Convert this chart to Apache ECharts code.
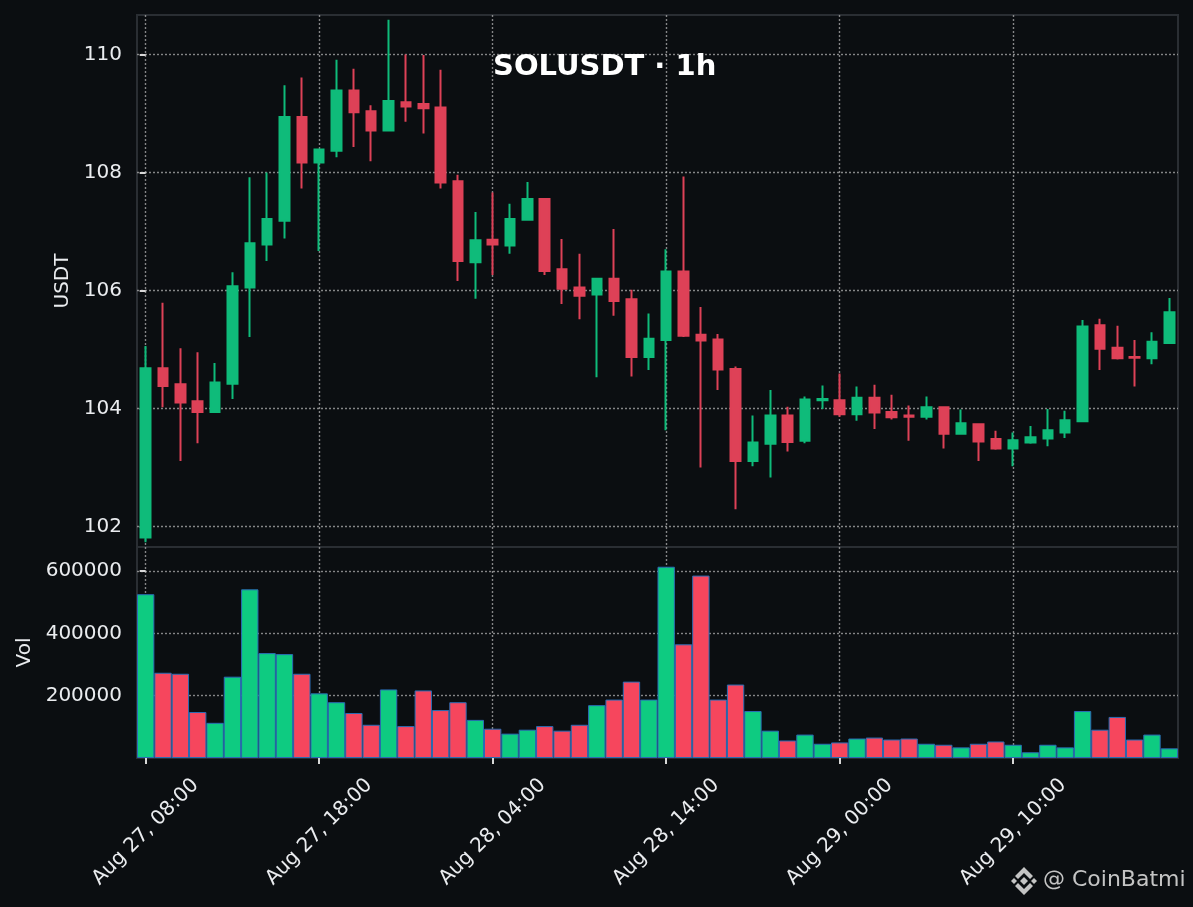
<!DOCTYPE html>
<html><head><meta charset="utf-8">
<script src="https://cdn.jsdelivr.net/npm/echarts@6/dist/echarts.min.js"></script>
<style>html,body{margin:0;padding:0;background:#0b0e11;}#c{width:1193px;height:907px;}</style>
</head><body><div id="c"></div>
<script>
const times = [
 'Aug 27, 08:00','Aug 27, 09:00','Aug 27, 10:00','Aug 27, 11:00','Aug 27, 12:00','Aug 27, 13:00','Aug 27, 14:00','Aug 27, 15:00',
 'Aug 27, 16:00','Aug 27, 17:00','Aug 27, 18:00','Aug 27, 19:00','Aug 27, 20:00','Aug 27, 21:00','Aug 27, 22:00','Aug 27, 23:00',
 'Aug 28, 00:00','Aug 28, 01:00','Aug 28, 02:00','Aug 28, 03:00','Aug 28, 04:00','Aug 28, 05:00','Aug 28, 06:00','Aug 28, 07:00',
 'Aug 28, 08:00','Aug 28, 09:00','Aug 28, 10:00','Aug 28, 11:00','Aug 28, 12:00','Aug 28, 13:00','Aug 28, 14:00','Aug 28, 15:00',
 'Aug 28, 16:00','Aug 28, 17:00','Aug 28, 18:00','Aug 28, 19:00','Aug 28, 20:00','Aug 28, 21:00','Aug 28, 22:00','Aug 28, 23:00',
 'Aug 29, 00:00','Aug 29, 01:00','Aug 29, 02:00','Aug 29, 03:00','Aug 29, 04:00','Aug 29, 05:00','Aug 29, 06:00','Aug 29, 07:00',
 'Aug 29, 08:00','Aug 29, 09:00','Aug 29, 10:00','Aug 29, 11:00','Aug 29, 12:00','Aug 29, 13:00','Aug 29, 14:00','Aug 29, 15:00',
 'Aug 29, 16:00','Aug 29, 17:00','Aug 29, 18:00','Aug 29, 19:00'
];
const opens = [
 101.81,104.68,104.41,104.12,103.94,104.42,106.05,106.78,107.18,108.94,
 108.17,108.37,109.39,109.04,108.71,109.19,109.16,109.10,107.85,106.48,
 106.86,106.76,107.20,107.55,106.36,106.05,105.93,106.20,105.85,104.87,
 105.16,106.32,105.25,105.17,104.67,103.11,103.40,103.88,103.45,104.14,
 104.14,103.90,104.18,103.94,103.88,103.86,104.02,103.57,103.73,103.48,
 103.32,103.42,103.49,103.59,103.78,105.41,105.03,104.87,104.85,105.11
];
const closes = [
 104.68,104.38,104.10,103.94,104.44,106.07,106.80,107.21,108.94,108.17,
 108.39,109.39,109.02,108.71,109.21,109.12,109.09,107.83,106.50,106.85,
 106.78,107.21,107.55,106.33,106.03,105.91,106.20,105.82,104.87,105.18,
 106.32,105.23,105.15,104.66,103.11,103.42,103.88,103.43,104.15,104.16,
 103.90,104.18,103.93,103.85,103.86,104.02,103.57,103.75,103.44,103.32,
 103.46,103.51,103.63,103.80,105.39,105.01,104.85,104.86,105.13,105.63
];
const lows = [
 101.73,104.02,103.11,103.41,103.93,104.16,105.21,106.50,106.88,107.73,
 106.67,108.26,108.43,108.19,108.71,108.86,108.66,107.73,106.16,105.86,
 106.26,106.62,107.18,106.26,105.77,105.51,104.53,105.57,104.54,104.65,
 103.63,105.21,103.00,104.31,102.29,103.02,102.83,103.27,103.41,103.99,
 103.86,103.79,103.65,103.81,103.45,103.81,103.32,103.57,103.11,103.30,
 103.02,103.40,103.36,103.50,103.78,104.65,104.83,104.37,104.75,105.11
];
const highs = [
 105.06,105.79,105.02,104.95,104.77,106.31,107.92,108.00,109.48,109.61,
 108.40,109.91,109.76,109.14,110.59,110.00,109.99,109.74,107.96,107.33,
 107.66,107.47,107.84,107.55,106.87,106.62,106.20,107.04,106.01,105.61,
 106.70,107.93,105.72,105.26,104.71,103.88,104.31,104.03,104.20,104.39,
 104.59,104.37,104.40,104.23,104.05,104.20,104.02,103.98,103.73,103.62,
 103.59,103.70,103.99,103.96,105.50,105.52,105.40,105.16,105.29,105.87
];
const volumes = [
 525500,273500,270300,147500,112900,260900,541200,336500,333300,270300,
 207400,179000,144400,106600,220000,102400,216800,153800,179000,122300,
 94000,78200,90800,102400,87700,106600,169600,187400,245100,187400,
 613700,364800,585300,187400,235700,150700,87700,56200,75100,45700,
 49900,62500,65600,59300,62500,45700,42500,34100,45700,53000,
 42500,18400,42500,34100,150700,90800,131800,59300,75100,31000
];
const xTickIdx = [0,10,20,30,40,50];
const priceTicks = [102,104,106,108,110];
const volTicks = [200000,400000,600000];

const UP='#0fbb7a', DOWN='#de4157', VUP='#0ecb81', VDOWN='#f6465d';
const FONT='DejaVu Sans';
const TXT='#eaecef';
const gridLine = {show:true, lineStyle:{color:'rgba(175,175,175,0.75)', width:1.4, type:[2,2]}};

const candleData = times.map((t,i)=>[i, opens[i], closes[i], lows[i], highs[i]]);
const volData = times.map((t,i)=>({value:[i, volumes[i]], itemStyle:{color: closes[i] >= opens[i] ? VUP : VDOWN}}));

const chart = echarts.init(document.getElementById('c'), null, {renderer:'canvas'});
const L=137, R=15;
chart.setOption({
  backgroundColor:'#0b0e11',
  animation:false,
  textStyle:{fontFamily:FONT},
  title:{text:'SOLUSDT · 1h', left:493, top:53, padding:0,
    textStyle:{color:'#ffffff', fontFamily:FONT, fontWeight:'bold', fontSize:29}},
  grid:[
    {left:L, right:R, top:15, height:532, show:true, borderColor:'#2a2e33', borderWidth:2, backgroundColor:'transparent'},
    {left:L, right:R, top:547, height:211, show:true, borderColor:'#2a2e33', borderWidth:2, backgroundColor:'transparent'}
  ],
  xAxis:[
    {type:'value', gridIndex:0, min:-0.5, max:59.5,
      axisLine:{show:false}, axisLabel:{show:false, customValues:xTickIdx},
      axisTick:{show:false, customValues:xTickIdx}, splitLine:gridLine},
    {type:'value', gridIndex:1, min:-0.5, max:59.5,
      axisLine:{show:false},
      axisTick:{show:true, customValues:xTickIdx, length:6, lineStyle:{color:'#d8d8d8', width:2}},
      axisLabel:{show:true, customValues:xTickIdx, rotate:45, align:'center', verticalAlign:'middle', margin:74,
        color:TXT, fontFamily:FONT, fontSize:20, formatter:(v)=>times[Math.round(v)] || ''},
      splitLine:gridLine}
  ],
  yAxis:[
    {type:'value', gridIndex:0, min:101.65, max:110.67, position:'left',
      name:'USDT', nameLocation:'middle', nameGap:62, nameTextStyle:{color:TXT, fontFamily:FONT, fontSize:20},
      axisLine:{show:false},
      axisTick:{show:true, customValues:priceTicks, length:6, lineStyle:{color:'#d8d8d8', width:2}},
      axisLabel:{customValues:priceTicks, color:TXT, fontFamily:FONT, fontSize:20, margin:15, formatter:(v)=>String(v)},
      splitLine:gridLine},
    {type:'value', gridIndex:1, min:0, max:677000, interval:200000, position:'left',
      name:'Vol', nameLocation:'middle', nameGap:100, nameTextStyle:{color:TXT, fontFamily:FONT, fontSize:20},
      axisLine:{show:false},
      axisTick:{show:true, customValues:volTicks, length:6, lineStyle:{color:'#d8d8d8', width:2}},
      axisLabel:{customValues:volTicks, color:TXT, fontFamily:FONT, fontSize:20, margin:15, formatter:(v)=>String(v)},
      splitLine:gridLine}
  ],
  series:[
    {type:'candlestick', xAxisIndex:0, yAxisIndex:0, data:candleData, barWidth:10,
      itemStyle:{color:UP, color0:DOWN, borderColor:UP, borderColor0:DOWN, borderWidth:2}},
    {type:'bar', xAxisIndex:1, yAxisIndex:1, data:volData, barWidth:'100%',
      itemStyle:{borderColor:'#2a6db5', borderWidth:1}}
  ],
  graphic:[
    {type:'group', x:1024, y:881, silent:true, children:[
      {type:'polygon', shape:{points:[[0,-4],[4,0],[0,4],[-4,0]]}, style:{fill:'#c4c4c4'}},
      {type:'polygon', shape:{points:[[-10,-3],[-7,0],[-10,3],[-13,0]]}, style:{fill:'#c4c4c4'}},
      {type:'polygon', shape:{points:[[10,-3],[13,0],[10,3],[7,0]]}, style:{fill:'#c4c4c4'}},
      {type:'polygon', shape:{points:[[0,-14],[9,-5],[6,-2],[0,-8],[-6,-2],[-9,-5]]}, style:{fill:'#c4c4c4'}},
      {type:'polygon', shape:{points:[[0,14],[9,5],[6,2],[0,8],[-6,2],[-9,5]]}, style:{fill:'#c4c4c4'}}
    ]},
    {type:'text', x:1043, y:880, silent:true, style:{text:'@ CoinBatmi', fill:'#c4c4c4', font:'22px "DejaVu Sans"', verticalAlign:'middle', align:'left'}}
  ]
});
</script>
</body></html>
